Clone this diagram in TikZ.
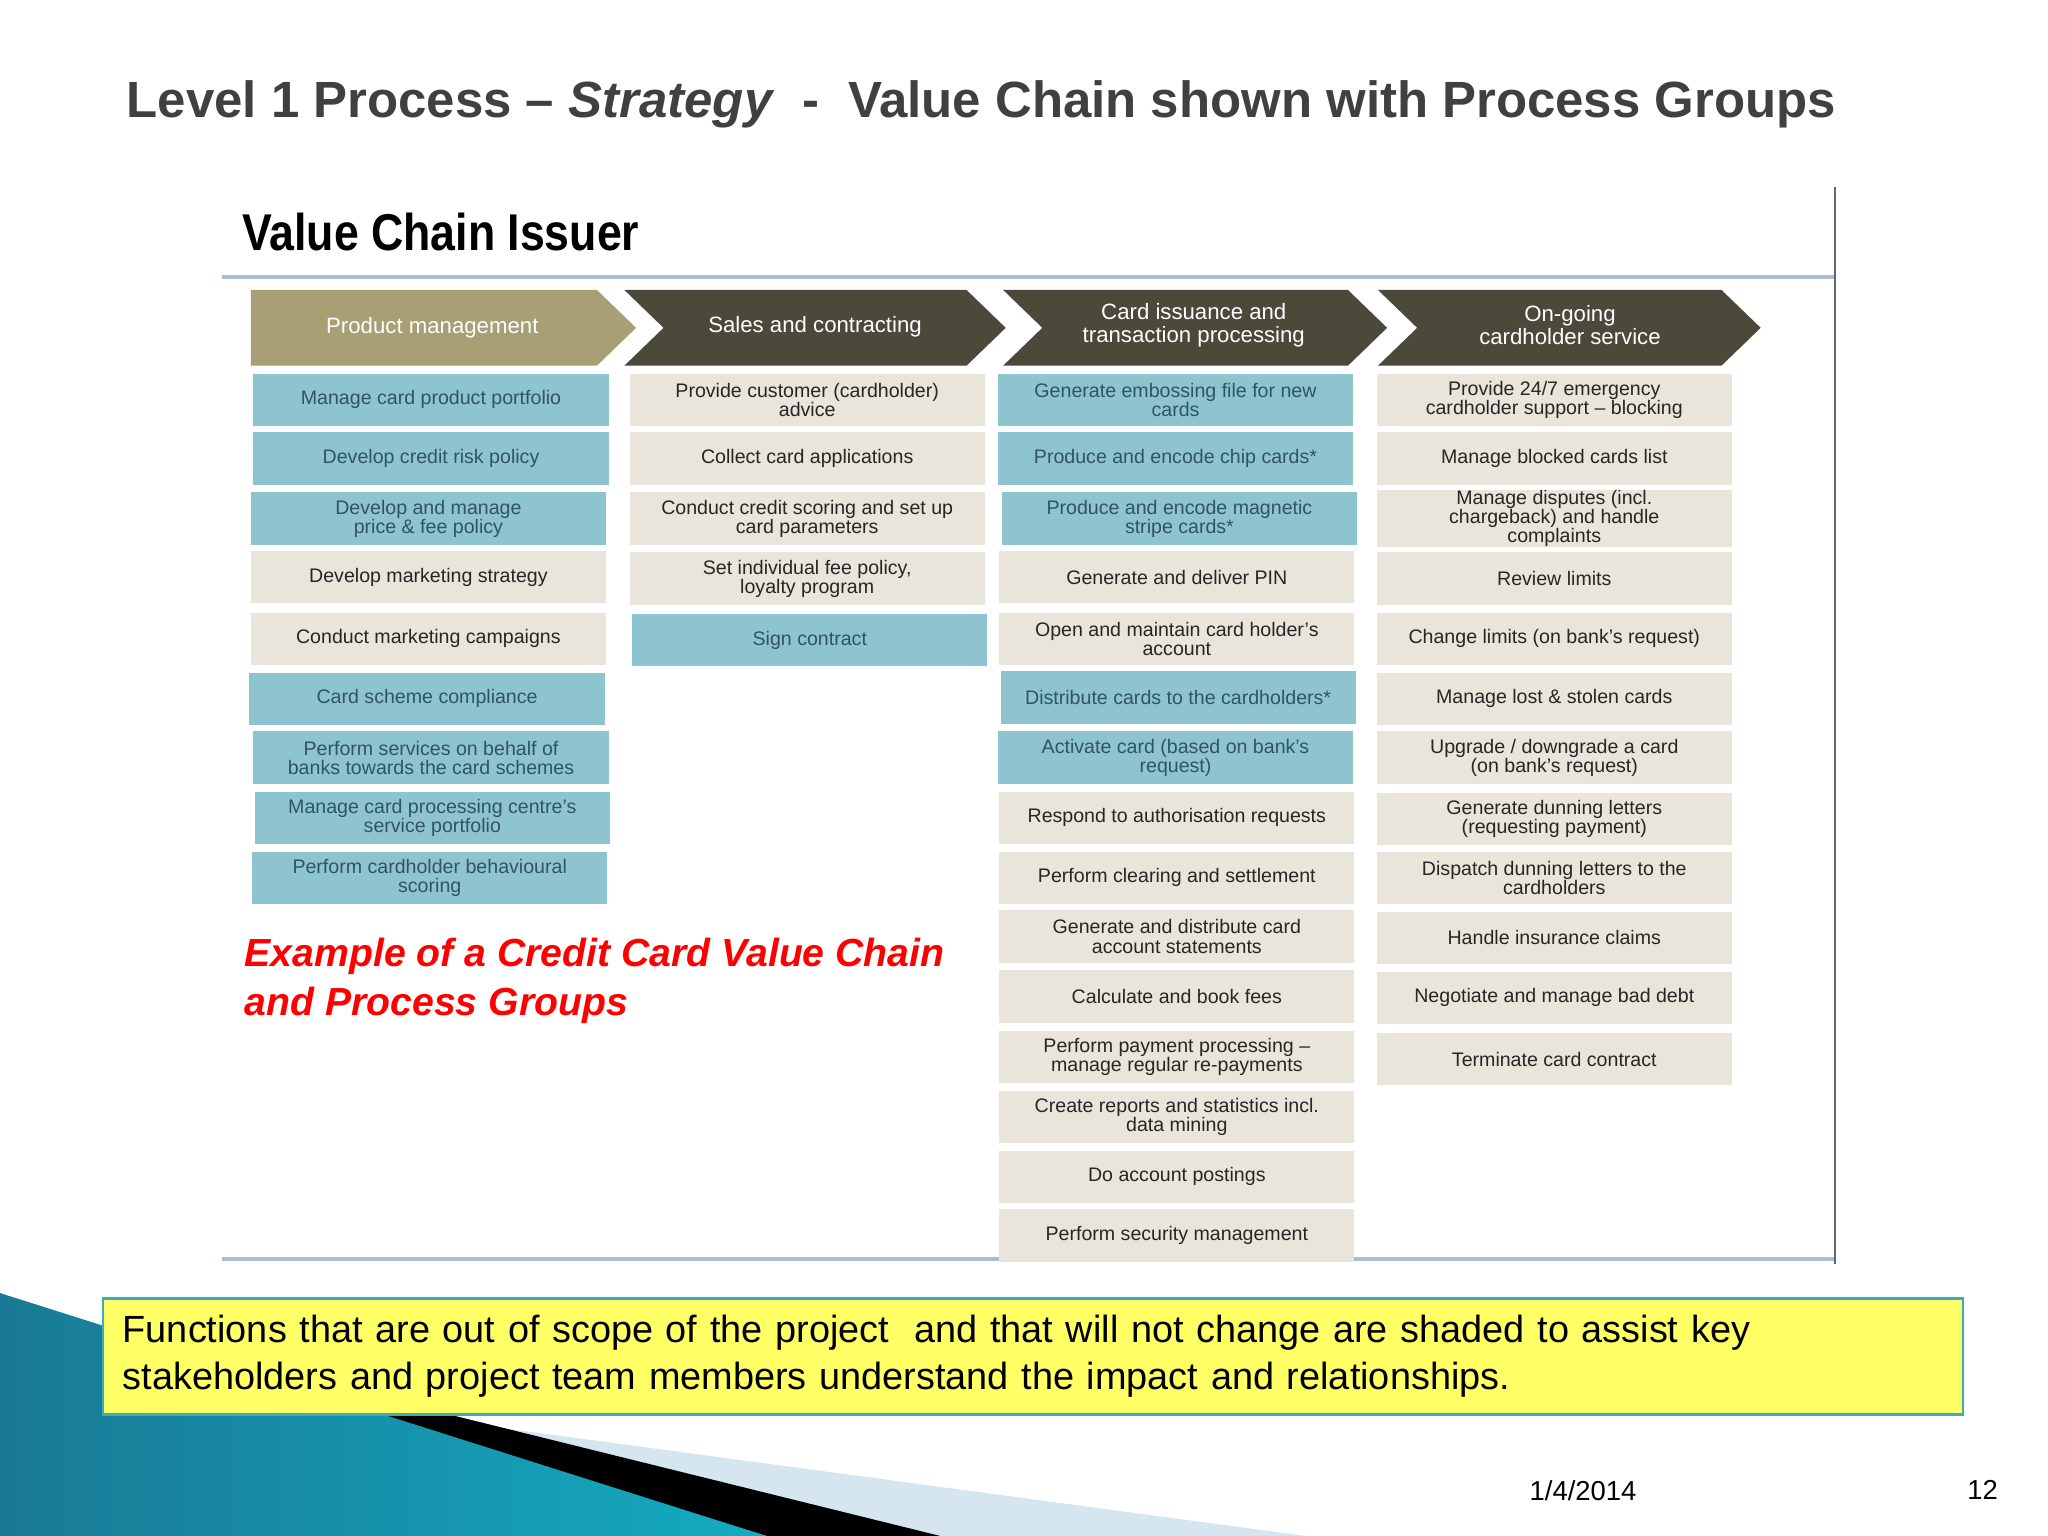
\documentclass[tikz,border=0pt]{standalone}
\usepackage{fontspec}
\setmainfont{Liberation Sans}
\definecolor{bl}{HTML}{8EC4D0}
\definecolor{bg}{HTML}{E9E5DB}
\definecolor{chA}{HTML}{A89F74}
\definecolor{chB}{HTML}{4B4939}
\definecolor{btx}{HTML}{2F5560}
\definecolor{teal}{HTML}{1C87A6}
\definecolor{ltb}{HTML}{D6E6F0}
\definecolor{ttl}{HTML}{404040}
\definecolor{yel}{HTML}{FFFF66}
\definecolor{ybd}{HTML}{3AACC0}
\definecolor{frm}{HTML}{A9C0D4}
\begin{document}
\begin{tikzpicture}[x=0.5pt,y=-0.5pt,
  cell/.style={minimum width=136pt,minimum height=20pt,inner sep=0pt,align=center,font=\fontsize{7.5}{7.3}\selectfont},
  B/.style={cell,fill=bl,text=btx},
  W/.style={cell,fill=bg,text=black!85},
  chlab/.style={text=white,align=center,font=\fontsize{8.5}{9}\selectfont}]
\useasboundingbox (0,0) rectangle (1568,1176);
\fill[white] (0,0) rectangle (1568,1176);
% bottom-left decoration
\fill[ltb] (300,1082) -- (1000,1176) -- (560,1176) -- cycle;
\fill[black] (280,1082) -- (340,1082) -- (720,1176) -- (587,1176) -- cycle;
\shade[left color=teal!90!black,right color=teal!70!cyan] (0,990) -- (587,1176) -- (0,1176) -- cycle;
% title
\node[anchor=west,text=ttl,font=\fontsize{19.5}{20}\selectfont\bfseries] (title) at (90,80) {Level 1 Process -- \textit{Strategy}~~-~~Value Chain shown with Process Groups};
% frame
\node[anchor=west,font=\fontsize{18}{18}\selectfont\bfseries,xscale=0.95,yscale=1.1,inner sep=0pt] (vci) at (185,178) {Value Chain Issuer};
\draw[frm,line width=1.5pt] (170,212) -- (1405,212);
\draw[frm,line width=1.5pt] (170,964) -- (1405,964);
\draw[black!60,line width=1pt] (1405,143) -- (1405,968);
% chevrons
\fill[chA] (192,222) -- (457,222) -- (487,251) -- (457,280) -- (192,280) -- cycle;
\fill[chB] (478,222) -- (740,222) -- (770,251) -- (740,280) -- (478,280) -- (508,251) -- cycle;
\fill[chB] (768,222) -- (1032,222) -- (1062,251) -- (1032,280) -- (768,280) -- (798,251) -- cycle;
\fill[chB] (1055,222) -- (1318,222) -- (1348,251) -- (1318,280) -- (1055,280) -- (1085,251) -- cycle;
\node[chlab] (c1) at (331,251) {Product management};
\node[chlab] (c2) at (624,250) {Sales and contracting};
\node[chlab] (c3) at (914,249) {Card issuance and\\transaction processing};
\node[chlab] (c4) at (1202,249) {On-going\\cardholder service};
% column 1
\node[B] (a1) at (330,306) {Manage card product portfolio};
\node[B] (a2) at (330,351) {Develop credit risk policy};
\node[B] (a3) at (328,397) {Develop and manage\\price \& fee policy};
\node[W] (a4) at (328,442) {Develop marketing strategy};
\node[W] (a5) at (328,489) {Conduct marketing campaigns};
\node[B] (a6) at (327,535) {Card scheme compliance};
\node[B] (a7) at (330,580) {Perform services on behalf of\\banks towards the card schemes};
\node[B] (a8) at (331,626) {Manage card processing centre's\\service portfolio};
\node[B] (a9) at (329,672) {Perform cardholder behavioural\\scoring};
% column 2
\node[W] (b1) at (618,306) {Provide customer (cardholder)\\advice};
\node[W] (b2) at (618,351) {Collect card applications};
\node[W] (b3) at (618,397) {Conduct credit scoring and set up\\card parameters};
\node[W] (b4) at (618,443) {Set individual fee policy,\\loyalty program};
\node[B] (b5) at (620,490) {Sign contract};
% column 3
\node[B] (d1) at (900,306) {Generate embossing file for new\\cards};
\node[B] (d2) at (900,351) {Produce and encode chip cards*};
\node[B] (d3) at (903,397) {Produce and encode magnetic\\stripe cards*};
\node[W] (d4) at (901,442) {Generate and deliver PIN};
\node[W] (d5) at (901,489) {Open and maintain card holder's\\account};
\node[B] (d6) at (902,534) {Distribute cards to the cardholders*};
\node[B] (d7) at (900,580) {Activate card (based on bank's\\request)};
\node[W] (d8) at (901,626) {Respond to authorisation requests};
\node[W] (d9) at (901,672) {Perform clearing and settlement};
\node[W] (d10) at (901,717) {Generate and distribute card\\account statements};
\node[W] (d11) at (901,763) {Calculate and book fees};
\node[W] (d12) at (901,809) {Perform payment processing --\\manage regular re-payments};
\node[W] (d13) at (901,855) {Create reports and statistics incl.\\data mining};
\node[W] (d14) at (901,901) {Do account postings};
\node[W] (d15) at (901,946) {Perform security management};
% column 4
\node[W] (e1) at (1190,306) {Provide 24/7 emergency\\cardholder support -- blocking};
\node[W] (e2) at (1190,351) {Manage blocked cards list};
\node[W] (e3) at (1190,397) {Manage disputes (incl.\\chargeback) and handle\\complaints};
\node[W] (e4) at (1190,443) {Review limits};
\node[W] (e5) at (1190,489) {Change limits (on bank's request)};
\node[W] (e6) at (1190,535) {Manage lost \& stolen cards};
\node[W] (e7) at (1190,580) {Upgrade / downgrade a card\\(on bank's request)};
\node[W] (e8) at (1190,627) {Generate dunning letters\\(requesting payment)};
\node[W] (e9) at (1190,672) {Dispatch dunning letters to the\\cardholders};
\node[W] (e10) at (1190,718) {Handle insurance claims};
\node[W] (e11) at (1190,764) {Negotiate and manage bad debt};
\node[W] (e12) at (1190,811) {Terminate card contract};
% red text
\node[anchor=north west,text=red,align=left,font=\fontsize{15}{18.5}\selectfont\bfseries\itshape,inner sep=0pt] (ex) at (187,718) {Example of a Credit Card Value Chain\\and Process Groups};
% yellow box
\node[anchor=north west,fill=yel,draw=ybd,line width=1pt,minimum width=712pt,minimum height=44.5pt,text width=697pt,align=left,inner xsep=7.5pt,font=\fontsize{14.5}{18}\selectfont] (note) at (78,993) {Functions that are out of scope of the project~ and that will not change are shaded to assist key\\stakeholders and project team members understand the impact and relationships.};
\node[font=\fontsize{10.5}{11}\selectfont] (date) at (1212,1141) {1/4/2014};
\node[font=\fontsize{10.5}{11}\selectfont] (pg) at (1518,1141) {12};
\end{tikzpicture}
\end{document}
